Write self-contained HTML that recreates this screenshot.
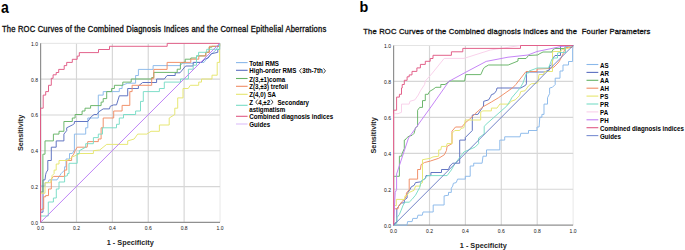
<!DOCTYPE html>
<html><head><meta charset="utf-8"><style>
html,body{margin:0;padding:0;background:#fff;}
body{width:685px;height:250px;overflow:hidden;}
svg{display:block;font-family:"Liberation Sans", sans-serif;}
</style></head><body>
<svg width="685" height="250" viewBox="0 0 685 250">
<rect width="685" height="250" fill="#fff"/>
<text transform="translate(1.0,12.5) scale(0.92,1.05)" font-size="15.3" font-weight="bold" fill="#000">a</text>
<text transform="translate(359.4,12.0) scale(0.94,1)" font-size="15.3" font-weight="bold" fill="#000">b</text>
<text transform="translate(1.9,31.7) scale(1,1.07)" font-size="7.6" letter-spacing="0.2" fill="#111" stroke="#111" stroke-width="0.3">The ROC Curves of the Combined Diagnosis Indices and the Corneal Epithelial Aberrations</text>
<text transform="translate(363.2,33.6) scale(1,1.05)" font-size="7.6" letter-spacing="0.19" fill="#111" stroke="#111" stroke-width="0.3" xml:space="preserve">The ROC Curves of the Combined diagnosis indices and the  Fourier Parameters</text>
<line x1="76.48" y1="43.35" x2="76.48" y2="222.40" stroke="#d6d6d6" stroke-width="1.15"/>
<line x1="112.36" y1="43.35" x2="112.36" y2="222.40" stroke="#d6d6d6" stroke-width="1.15"/>
<line x1="148.24" y1="43.35" x2="148.24" y2="222.40" stroke="#d6d6d6" stroke-width="1.15"/>
<line x1="184.12" y1="43.35" x2="184.12" y2="222.40" stroke="#d6d6d6" stroke-width="1.15"/>
<line x1="220.00" y1="43.35" x2="220.00" y2="222.40" stroke="#e8e8e8" stroke-width="1.0"/>
<line x1="40.60" y1="186.59" x2="220.00" y2="186.59" stroke="#d6d6d6" stroke-width="1.15"/>
<line x1="40.60" y1="150.78" x2="220.00" y2="150.78" stroke="#d6d6d6" stroke-width="1.15"/>
<line x1="40.60" y1="114.97" x2="220.00" y2="114.97" stroke="#d6d6d6" stroke-width="1.15"/>
<line x1="40.60" y1="79.16" x2="220.00" y2="79.16" stroke="#d6d6d6" stroke-width="1.15"/>
<line x1="40.60" y1="43.35" x2="220.00" y2="43.35" stroke="#e4e4e4" stroke-width="1.0"/>
<line x1="40.60" y1="43.35" x2="40.60" y2="222.90" stroke="#909090" stroke-width="1.2"/>
<line x1="40.10" y1="222.40" x2="220.00" y2="222.40" stroke="#909090" stroke-width="1.2"/>
<text x="38.00" y="224.90" font-size="5.0" text-anchor="end" fill="#111">0.0</text>
<text x="38.00" y="189.09" font-size="5.0" text-anchor="end" fill="#111">0.2</text>
<text x="38.00" y="153.28" font-size="5.0" text-anchor="end" fill="#111">0.4</text>
<text x="38.00" y="117.47" font-size="5.0" text-anchor="end" fill="#111">0.6</text>
<text x="38.00" y="81.66" font-size="5.0" text-anchor="end" fill="#111">0.8</text>
<text x="38.00" y="45.85" font-size="5.0" text-anchor="end" fill="#111">1.0</text>
<text x="40.60" y="230.40" font-size="5.0" text-anchor="middle" fill="#111">0.0</text>
<text x="76.48" y="230.40" font-size="5.0" text-anchor="middle" fill="#111">0.2</text>
<text x="112.36" y="230.40" font-size="5.0" text-anchor="middle" fill="#111">0.4</text>
<text x="148.24" y="230.40" font-size="5.0" text-anchor="middle" fill="#111">0.6</text>
<text x="184.12" y="230.40" font-size="5.0" text-anchor="middle" fill="#111">0.8</text>
<text x="220.00" y="230.40" font-size="5.0" text-anchor="middle" fill="#111">1.0</text>
<text x="130.30" y="244.70" font-size="7.3" font-weight="bold" text-anchor="middle" fill="#222">1 - Specificity</text>
<text transform="translate(22.80,132.88) rotate(-90)" font-size="7.25" font-weight="bold" text-anchor="middle" fill="#222">Sensitivity</text>
<path d="M40.5,222.4 V186 H45 V182.7 H47.8 L49.2,179.9 H57 L59.7,175.7 L61.1,173.6 L64.6,170.1 V166.8 H66 V159 H69.5 V153.5 H72.3 L74.4,150 V134.1 H85.7 V127.8 H87.8 V118 H98.3 V95.1 H103.2 V91.6 H119.3 V88.5 H122.1 V85.3 L127.7,83.2 H135.6 V75.5 H138.4 V69.4 H153.1 V65.6 H180.4 L182.4,63.2 H193.6 V62.4 H204 L204.8,61.2 L208,57 L216,50 L219.6,43.4" fill="none" stroke="#8ab8ea" stroke-width="0.95" stroke-linejoin="miter"/>
<path d="M40.5,222.4 V212.2 H43 V179.9 H45 L45.7,174.3 L46.4,172.2 L47.8,170 V160.5 H51.3 V147.2 H56.2 V140.9 H63.9 V134.1 L66.7,130.6 V127.8 L72.3,125 L74.4,123.6 V121.5 H87.8 L91.3,116.6 L94.1,114.5 H96.9 L99,111.7 L103.2,108.9 H109.5 L110.2,106.3 L113.7,104.9 H116.5 L119.3,95.8 H127.7 V88.5 H138.4 V86 L142.6,82.5 H156.6 V79 H164.3 L167.1,75.5 H175.2 V72.8 H180 L185.6,66 H193.2 V62.4 H201.6 L204.8,59.2 L208.2,58 L211.2,53.8 L217.8,52.3 V49.6 L219.6,49.3 V43.4" fill="none" stroke="#5b6fc0" stroke-width="0.95" stroke-linejoin="miter"/>
<path d="M40.5,222.4 V192 H42.9 V154.2 H45 V140.9 H53.4 V134.1 H59 V131.3 H63.9 V121.5 H72.3 V118 H75.1 V114.5 H82.1 V111 H85 V108.2 H90.6 V105.6 H101.1 V102.1 H103.2 V98.6 H106.7 V91.6 H111.6 V88.5 H114.4 V85.3 H122.8 V82.1 H131.2 V79 H151.7 V77.6 H153.8 V72.4 H177.2 V69.2 H180.4 V63.2 L185.2,62 V59.2 H190.8 V58 H196.5 V55.9 H205.8 V52.3 H209.1 V47.2 H211.8 V46.3 H219.6 V43.4" fill="none" stroke="#66b366" stroke-width="0.95" stroke-linejoin="miter"/>
<path d="M40.5,222.4 V210 H41.8 V209 H43.7 V196.8 H45.6 V195.6 H48.5 V189 H51.3 V179.2 L53.4,176.4 H64.6 V170.1 H66.7 V160.5 H71.6 V157 L73.7,154.2 L75.1,150.7 L77.2,147.2 H87.1 L87.8,141.6 H98.3 V139 H101.1 V127.8 H103.2 V118 H113.7 V111 H122.1 V105.4 H129.8 V91.6 H132.1 V85.3 H151.7 V78.3 H153.8 V69.4 H167.1 V62.4 H190.8 V59.2 H198.8 V55.9 H205.8 V52.3 H209.4 V46.3 H219.6 V43.4" fill="none" stroke="#f08c64" stroke-width="0.95" stroke-linejoin="miter"/>
<path d="M40.5,222.4 V193.2 H45 V182.7 H50.6 L52,177.1 V175.7 L54.1,173.6 V170.1 H56.2 V164 H59 V160.5 H67.4 L70.9,158.4 L72.3,157 L80,153.5 H93.4 V150.7 L99.7,150 L106.7,144.4 H127.7 V140.9 L134.2,139 L137.7,134.1 H146.8 L151,131.3 H159.4 V125 H169.2 V118 L174.8,114.5 V108.2 H177.7 V97.9 H183 V88.5 H188.2 L190.3,85.3 H198.7 V82.1 H201.5 V79 H212 V75.2 H217.2 V62.4 H219.6 V43.4" fill="none" stroke="#e6e66e" stroke-width="0.95" stroke-linejoin="miter"/>
<path d="M40.5,222.4 V216 H48.3 V202 H53.4 V198 H56.3 V189 H59 V182 H64.6 V176.4 L67.4,175.7 V173.6 H69 V163.3 H77.2 V153.5 H79.3 V150.7 L85.7,147.2 V143.7 H93.4 V137.6 H98.3 V134.1 H102.5 V127.8 H116.5 V124.3 H119.3 V118 H123.5 V114.5 H135.6 V111 H140.5 V101.4 H143.3 V91.6 H159.4 V88.5 H164.3 V82.1 H180.5 V79 H188.4 V69.2 H193.2 V65.2 H196.5 V55.9 H198.6 V52.3 H206.7 V49.3 H219.6 V43.4" fill="none" stroke="#78dcc6" stroke-width="0.95" stroke-linejoin="miter"/>
<path d="M40.5,222.4 V108.2 H43.2 V95.1 H45.7 V91.6 H48.5 V85.3 H51.3 V78.3 H53.1 V74.8 H56.2 V72.5 H58.7 V69.4 H64.2 V65.6 H66.7 V62.4 H72.3 V59.3 H77.2 V56.1 H79.3 V52.6 H98.5 V49.5 H109.5 V46.3 H167.2 V43.4 H219.6" fill="none" stroke="#e05a85" stroke-width="0.95" stroke-linejoin="miter"/>
<path d="M40.4,222.5 L219.6,43.4" fill="none" stroke="#bb7cf6" stroke-width="0.95" stroke-linejoin="miter"/>
<line x1="429.50" y1="45.50" x2="429.50" y2="225.20" stroke="#d6d6d6" stroke-width="1.15"/>
<line x1="465.40" y1="45.50" x2="465.40" y2="225.20" stroke="#d6d6d6" stroke-width="1.15"/>
<line x1="501.30" y1="45.50" x2="501.30" y2="225.20" stroke="#d6d6d6" stroke-width="1.15"/>
<line x1="537.20" y1="45.50" x2="537.20" y2="225.20" stroke="#d6d6d6" stroke-width="1.15"/>
<line x1="573.10" y1="45.50" x2="573.10" y2="225.20" stroke="#e8e8e8" stroke-width="1.0"/>
<line x1="393.60" y1="189.26" x2="573.10" y2="189.26" stroke="#d6d6d6" stroke-width="1.15"/>
<line x1="393.60" y1="153.32" x2="573.10" y2="153.32" stroke="#d6d6d6" stroke-width="1.15"/>
<line x1="393.60" y1="117.38" x2="573.10" y2="117.38" stroke="#d6d6d6" stroke-width="1.15"/>
<line x1="393.60" y1="81.44" x2="573.10" y2="81.44" stroke="#d6d6d6" stroke-width="1.15"/>
<line x1="393.60" y1="45.50" x2="573.10" y2="45.50" stroke="#e4e4e4" stroke-width="1.0"/>
<line x1="393.60" y1="45.50" x2="393.60" y2="225.70" stroke="#909090" stroke-width="1.2"/>
<line x1="393.10" y1="225.20" x2="573.10" y2="225.20" stroke="#909090" stroke-width="1.2"/>
<text x="391.00" y="227.70" font-size="5.0" text-anchor="end" fill="#111">0.0</text>
<text x="391.00" y="191.76" font-size="5.0" text-anchor="end" fill="#111">0.2</text>
<text x="391.00" y="155.82" font-size="5.0" text-anchor="end" fill="#111">0.4</text>
<text x="391.00" y="119.88" font-size="5.0" text-anchor="end" fill="#111">0.6</text>
<text x="391.00" y="83.94" font-size="5.0" text-anchor="end" fill="#111">0.8</text>
<text x="391.00" y="48.00" font-size="5.0" text-anchor="end" fill="#111">1.0</text>
<text x="393.60" y="233.20" font-size="5.0" text-anchor="middle" fill="#111">0.0</text>
<text x="429.50" y="233.20" font-size="5.0" text-anchor="middle" fill="#111">0.2</text>
<text x="465.40" y="233.20" font-size="5.0" text-anchor="middle" fill="#111">0.4</text>
<text x="501.30" y="233.20" font-size="5.0" text-anchor="middle" fill="#111">0.6</text>
<text x="537.20" y="233.20" font-size="5.0" text-anchor="middle" fill="#111">0.8</text>
<text x="573.10" y="233.20" font-size="5.0" text-anchor="middle" fill="#111">1.0</text>
<text x="483.35" y="247.50" font-size="7.3" font-weight="bold" text-anchor="middle" fill="#222">1 - Specificity</text>
<text transform="translate(375.80,135.35) rotate(-90)" font-size="7.25" font-weight="bold" text-anchor="middle" fill="#222">Sensitivity</text>
<path d="M393.6,225.1 H407 L407.6,221.6 H412.1 L412.8,218.4 H417.2 L417.9,215.2 H422.3 L423,212 H433.2 V205 H444.1 V195.9 L448.5,195.2 V192.4 H451.3 V188.2 L452.7,186.1 L453.4,183.3 L456.2,182.6 L457.6,179.1 H465.3 V176.3 H470.2 V166 H473.7 V163.2 H482.1 L483,156.2 H486.5 V149.9 H499.8 V140.1 H504.7 V136.8 H520.1 L520.8,133.3 H528.5 V130.5 H537 V127 H539.1 L539.8,117.2 H541.9 V114.4 H544 V104.1 H547.5 V97.8 L549.6,93.6 V88 L552.4,87.3 L555.2,84.5 V78.2 H560 V71 H563 V65 H568.5 V61.5 H572.6 V49 L573.1,45.5" fill="none" stroke="#8ab8ea" stroke-width="0.95" stroke-linejoin="miter"/>
<path d="M393.6,225.1 V223.5 H394.8 L396.8,221.6 V208.8 L401.2,202.9 H404.3 V200.1 L407.1,198 V193.8 L409.9,189.6 L411.3,186.8 L414.1,185.4 L415.5,182.6 L420.4,181.9 L425.3,178.4 L426,175.6 H430.9 V172.5 H441.5 V169.5 H448.5 L449.9,166 L452.7,163.2 H459.7 V140.1 H465.3 V137.5 L472.3,130.5 V115.1 L475.1,114.4 H477.9 L480.7,110.2 L483.5,106 L483.7,101.3 L488.6,99.9 L490.7,96.4 L491.4,94.7 L494.2,93.6 L496.3,90.8 L497,88 H520.8 L525.7,85.2 L526.4,83.8 V72 H544 L549.5,70 V66 L551,65.5 L552,64.5 L553,58 L555,55.5 H560.5 V46 L561,45.5 H573.1" fill="none" stroke="#5b6fc0" stroke-width="0.95" stroke-linejoin="miter"/>
<path d="M393.6,225.1 V176.3 H399.4 V156.2 H401.5 L402.2,153.4 L404.3,148.5 V140.1 H405 L407.1,137.5 L409.2,136.1 L412,135.4 L414.1,133.3 L415.5,127.7 L417.6,126.3 V110.2 L419.7,107.4 H422.5 V100.6 H425.3 V94.3 H428.1 L429.5,91.5 L433,89.4 L435.8,87.3 H440.8 V84.5 H445 L449.9,81 H464.6 L465.8,74.6 H480.8 L483.2,69.2 L484.4,67.4 L488.6,65 H508.2 L518,61 V58.5 H526 L528.5,55.5 L537.5,55 L540,53.5 L543,52 H552 L553,49.5 L555,48.5 H565 V46.5 L573.1,45.5" fill="none" stroke="#66b366" stroke-width="0.95" stroke-linejoin="miter"/>
<path d="M393.6,225.1 V208.8 H398 L398.7,205.6 L400.5,204 L401.5,202 L404.4,199.4 L406.4,196 V193.1 L409.2,189.6 V179.1 H417.6 V169.5 H420.4 L421.1,164.6 L424.6,162.5 L430.2,161.1 L438.7,158.3 L444.3,154.8 L446.4,150.6 L447.1,146.4 L452,143.6 V131.2 L455.5,127 H461.8 L465.3,122.8 L469.5,119.3 L475.1,113.7 L480.7,108.8 L483.5,106.5 L491.4,102 L498.4,97.8 L512.4,88 L515.9,84.5 L517,83 L526,71.5 H537 V69 L549,68.5 L553,67.5 L554,67 L558,63 L559.5,61 L561,58 L563,54 L564.5,50 L565,47.5 H572 L573.1,45.5" fill="none" stroke="#f08c64" stroke-width="0.95" stroke-linejoin="miter"/>
<path d="M393.6,225.1 V205.6 H396.3 V199.4 H404.4 L405,195.9 L407.1,195.2 L409.2,192.4 L414.1,190.3 L415.5,186.1 H420.4 V184 L422.5,182.6 V159.7 L430.2,158.3 L433,156.9 L438.7,156.2 V149.9 H440.8 L441.5,146.4 H446.4 L447.1,143.6 H452 V133.3 L454.8,130.5 H459.7 L461.1,128.4 L463.9,127.7 L465.3,120 H480.7 V112.3 L482.8,110.9 H491.4 V108.1 H497 L499.8,104.1 H508.9 L511,101.3 L515.2,99.9 L519.4,95.7 L520.8,91.5 L525,90.8 L528.5,85.9 L531.4,83.8 L537.7,83.1 L539,74.5 H543.5 L544.5,71.5 H552.5 V52 L554,51.5 H561 V50 L569,48 V46.5 L573.1,45.5" fill="none" stroke="#e6e66e" stroke-width="0.95" stroke-linejoin="miter"/>
<path d="M393.6,225.1 L394.8,224.8 L396.8,223.5 V217.8 L399.3,214.6 L401.2,210.1 L403.2,205 L405,202.2 H409.2 L412,199.4 L415.5,195.2 L419.7,187.5 L421.1,181.2 L426,177.7 L427.4,175.6 H447.1 L451.3,170 L454.8,163.9 L459.7,157.6 L463.9,152 L475.1,147.1 L478.6,143.6 V138 L482.1,135.4 L484.2,134 V126.3 L487,123.5 L506.8,106 L510.3,100.6 L511.7,97.8 L520.1,88 L523,83 L526.5,73 H528.5 L529,71 L536,68.5 L537,68 H548.5 L552,59 L553,58 H557.5 V53 L560.5,52.5 H565.5 V46.5 L573.1,45.5" fill="none" stroke="#78dcc6" stroke-width="0.95" stroke-linejoin="miter"/>
<path d="M393.6,225.1 V113.7 H398 L401.5,112.3 V104.1 H409.2 L409.9,101.3 L414.8,99.9 L418.3,95 L420.4,90.8 L424.6,84.5 L425.3,81 L431.6,74 L444.2,58.4 H464 L490.4,50 L520,45.5 H573.1" fill="none" stroke="#f9d0ea" stroke-width="0.95" stroke-linejoin="miter"/>
<path d="M393.6,225.1 L394.5,205 L395.2,192.4 L396.6,189.6 V174 L408.5,138 L431.6,106 L449.2,81 L451.4,80 L465.8,72.2 L486.2,61.4 L508,57.2 L528,55 L537,51.5 L554,48 L561,46.5 L573.1,45.5" fill="none" stroke="#c27ef5" stroke-width="0.95" stroke-linejoin="miter"/>
<path d="M393.6,225.1 V110.2 H396.6 V97.1 H399.4 V94.3 H401.5 V88 H402.2 V84.5 H404.3 V80.3 H407.1 V76.8 H409.2 V74.9 H412 V71.4 H416.9 V67.9 H420.4 V64.4 H425.3 V61.3 H430.2 V58.5 H433 V55.3 H451.4 V51.8 H462.8 V48.4 H520.5 V45.5 H573.1" fill="none" stroke="#e05a85" stroke-width="0.95" stroke-linejoin="miter"/>
<path d="M393.6,225.2 L573.1,45.5" fill="none" stroke="#6a7cc4" stroke-width="0.95" stroke-linejoin="miter"/>
<line x1="236" y1="62.6" x2="247.6" y2="62.6" stroke="#8ab8ea" stroke-width="1.1"/>
<line x1="236" y1="70.3" x2="247.6" y2="70.3" stroke="#5b6fc0" stroke-width="1.1"/>
<line x1="236" y1="78.5" x2="247.6" y2="78.5" stroke="#66b366" stroke-width="1.1"/>
<line x1="236" y1="86.3" x2="247.6" y2="86.3" stroke="#f08c64" stroke-width="1.1"/>
<line x1="236" y1="94.3" x2="247.6" y2="94.3" stroke="#e6e66e" stroke-width="1.1"/>
<line x1="236" y1="105.3" x2="247.6" y2="105.3" stroke="#78dcc6" stroke-width="1.1"/>
<line x1="236" y1="116.3" x2="247.6" y2="116.3" stroke="#e05a85" stroke-width="1.1"/>
<line x1="236" y1="124.0" x2="247.6" y2="124.0" stroke="#dcc0fa" stroke-width="1.1"/>
<text transform="translate(249.2,65.70) scale(1,1.05)" font-size="6.2" font-weight="bold" fill="#000" xml:space="preserve">Total RMS</text>
<text transform="translate(249.2,73.30) scale(1,1.05)" font-size="6.2" font-weight="bold" fill="#000" xml:space="preserve">High-order RMS</text>
<path d="M301.50,68.40 L299.50,70.85 L301.50,73.40" fill="none" stroke="#111" stroke-width="0.75"/>
<text transform="translate(302.2,73.30) scale(1,1.05)" font-size="6.2" font-weight="bold" fill="#000" xml:space="preserve">3th-7th</text>
<path d="M323.50,68.40 L325.50,70.85 L323.50,73.40" fill="none" stroke="#111" stroke-width="0.75"/>
<text transform="translate(249.2,81.50) scale(1,1.05)" font-size="6.2" font-weight="bold" fill="#000" xml:space="preserve">Z(3,±1)coma</text>
<text transform="translate(249.2,89.30) scale(1,1.05)" font-size="6.2" font-weight="bold" fill="#000" xml:space="preserve">Z(3,±3) trefoil</text>
<text transform="translate(249.2,97.30) scale(1,1.05)" font-size="6.2" font-weight="bold" fill="#000" xml:space="preserve">Z(4,0) SA</text>
<text transform="translate(249.2,104.50) scale(1,1.05)" font-size="6.2" font-weight="bold" fill="#000" xml:space="preserve">Z</text>
<path d="M257.70,99.60 L255.70,102.05 L257.70,104.60" fill="none" stroke="#111" stroke-width="0.75"/>
<text transform="translate(258.2,104.50) scale(1,1.05)" font-size="6.2" font-weight="bold" fill="#000" xml:space="preserve">4,±2</text>
<path d="M271.00,99.60 L273.00,102.05 L271.00,104.60" fill="none" stroke="#111" stroke-width="0.75"/>
<text transform="translate(277.4,104.50) scale(1,1.05)" font-size="6.2" font-weight="bold" fill="#000" xml:space="preserve">Secondary</text>
<text transform="translate(249.2,111.70) scale(1,1.05)" font-size="6.2" font-weight="bold" fill="#000" xml:space="preserve">astigmatism</text>
<text transform="translate(249.2,119.30) scale(1,1.05)" font-size="6.2" font-weight="bold" fill="#000" xml:space="preserve">Combined diagnosis indices</text>
<text transform="translate(249.2,127.00) scale(1,1.05)" font-size="6.2" font-weight="bold" fill="#000" xml:space="preserve">Guides</text>
<line x1="586.5" y1="64.50" x2="598.3" y2="64.50" stroke="#8ab8ea" stroke-width="1.1"/>
<text transform="translate(600,67.60) scale(1,1.05)" font-size="6.2" font-weight="bold" fill="#000" xml:space="preserve">AS</text>
<line x1="586.5" y1="72.40" x2="598.3" y2="72.40" stroke="#5b6fc0" stroke-width="1.1"/>
<text transform="translate(600,75.50) scale(1,1.05)" font-size="6.2" font-weight="bold" fill="#000" xml:space="preserve">AR</text>
<line x1="586.5" y1="80.30" x2="598.3" y2="80.30" stroke="#66b366" stroke-width="1.1"/>
<text transform="translate(600,83.40) scale(1,1.05)" font-size="6.2" font-weight="bold" fill="#000" xml:space="preserve">AA</text>
<line x1="586.5" y1="88.20" x2="598.3" y2="88.20" stroke="#f08c64" stroke-width="1.1"/>
<text transform="translate(600,91.30) scale(1,1.05)" font-size="6.2" font-weight="bold" fill="#000" xml:space="preserve">AH</text>
<line x1="586.5" y1="96.10" x2="598.3" y2="96.10" stroke="#e6e66e" stroke-width="1.1"/>
<text transform="translate(600,99.20) scale(1,1.05)" font-size="6.2" font-weight="bold" fill="#000" xml:space="preserve">PS</text>
<line x1="586.5" y1="104.00" x2="598.3" y2="104.00" stroke="#78dcc6" stroke-width="1.1"/>
<text transform="translate(600,107.10) scale(1,1.05)" font-size="6.2" font-weight="bold" fill="#000" xml:space="preserve">PR</text>
<line x1="586.5" y1="111.90" x2="598.3" y2="111.90" stroke="#f9d0ea" stroke-width="1.1"/>
<text transform="translate(600,115.00) scale(1,1.05)" font-size="6.2" font-weight="bold" fill="#000" xml:space="preserve">PA</text>
<line x1="586.5" y1="119.80" x2="598.3" y2="119.80" stroke="#c27ef5" stroke-width="1.1"/>
<text transform="translate(600,122.90) scale(1,1.05)" font-size="6.2" font-weight="bold" fill="#000" xml:space="preserve">PH</text>
<line x1="586.5" y1="127.70" x2="598.3" y2="127.70" stroke="#e05a85" stroke-width="1.1"/>
<text transform="translate(600,130.80) scale(1,1.05)" font-size="6.2" font-weight="bold" fill="#000" xml:space="preserve">Combined diagnosis indices</text>
<line x1="586.5" y1="135.60" x2="598.3" y2="135.60" stroke="#7b8fd2" stroke-width="1.1"/>
<text transform="translate(600,138.70) scale(1,1.05)" font-size="6.2" font-weight="bold" fill="#000" xml:space="preserve">Guides</text>
</svg></body></html>
